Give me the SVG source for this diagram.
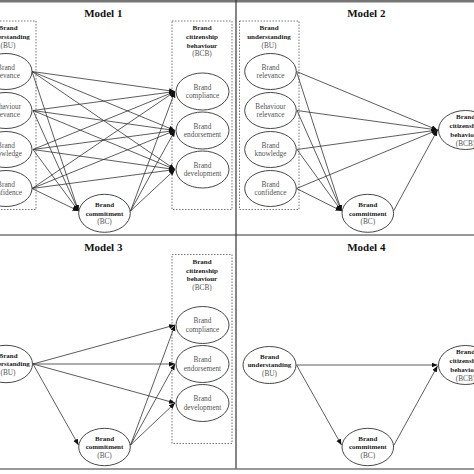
<svg xmlns="http://www.w3.org/2000/svg" width="474" height="474" viewBox="0 0 474 474">
<defs>
<marker id="ah" markerUnits="userSpaceOnUse" markerWidth="7" markerHeight="6" refX="6" refY="2.5" orient="auto">
<path d="M0,0 L6,2.5 L0,5 z" fill="#111"/>
</marker>
<style>
.t{font-family:"Liberation Serif","Times New Roman",serif;font-size:11px;font-weight:bold;fill:#111;text-anchor:middle}
.b{font-family:"Liberation Serif","Times New Roman",serif;font-size:7px;font-weight:bold;fill:#222;text-anchor:middle}
.r{font-family:"Liberation Serif","Times New Roman",serif;font-size:7.3px;fill:#555;text-anchor:middle}
.e{fill:#fff;stroke:#333;stroke-width:0.9}
.box{fill:none;stroke:#666;stroke-width:0.9;stroke-dasharray:1.5,1.5}
.c line{stroke:#333;stroke-width:0.8;marker-end:url(#ah)}
.frame{stroke:#333;stroke-width:1.2}
</style>
</defs>
<rect width="474" height="474" fill="#fff"/>
<!-- frame -->
<rect x="0" y="0" width="474" height="2.5" fill="#767676"/>
<line class="frame" x1="236" y1="0" x2="236" y2="469"/>
<line class="frame" x1="0" y1="235" x2="474" y2="235"/>
<line x1="0" y1="469" x2="474" y2="469" stroke="#777" stroke-width="1.5"/>
<!-- titles -->
<text class="t" x="103.3" y="16.7">Model 1</text>
<text class="t" x="366.3" y="16.7">Model 2</text>
<text class="t" x="103.3" y="250.5">Model 3</text>
<text class="t" x="366.3" y="250.5">Model 4</text>
<!-- dashed boxes -->
<g id="m1-bu-box"><rect class="box" x="-24" y="21" width="60" height="188.5"/>
<text class="b" x="8" y="30">Brand</text><text class="b" x="8" y="38.8">understanding</text><text class="r" x="8" y="47.6">(BU)</text></g>
<g id="m1-bcb-box"><rect class="box" x="172" y="21" width="60" height="188.5"/>
<text class="b" x="202" y="30">Brand</text><text class="b" x="202" y="38.8">citizenship</text><text class="b" x="202" y="47.6">behaviour</text><text class="r" x="202" y="56.4">(BCB)</text></g>
<g id="m2-bu-box"><rect class="box" x="239.5" y="21" width="59.5" height="188.5"/>
<text class="b" x="269" y="30">Brand</text><text class="b" x="269" y="38.8">understanding</text><text class="r" x="269" y="47.6">(BU)</text></g>
<g id="m3-bcb-box"><rect class="box" x="172" y="254.5" width="60" height="189"/>
<text class="b" x="202" y="263.8">Brand</text><text class="b" x="202" y="272.6">citizenship</text><text class="b" x="202" y="281.4">behaviour</text><text class="r" x="202" y="290.2">(BCB)</text></g>
<!-- connectors -->
<g id="connectors" class="c">
<!-- Model 1 -->
<line x1="32" y1="71.5" x2="175" y2="91.5"/>
<line x1="32" y1="71.5" x2="175" y2="130.5"/>
<line x1="32" y1="71.5" x2="175" y2="169.5"/>
<line x1="32" y1="71.5" x2="78.5" y2="211"/>
<line x1="33" y1="110.5" x2="175" y2="91.5"/>
<line x1="33" y1="110.5" x2="175" y2="130.5"/>
<line x1="33" y1="110.5" x2="175" y2="169.5"/>
<line x1="33" y1="110.5" x2="78.5" y2="211"/>
<line x1="33" y1="149.5" x2="175" y2="91.5"/>
<line x1="33" y1="149.5" x2="175" y2="130.5"/>
<line x1="33" y1="149.5" x2="175" y2="169.5"/>
<line x1="33" y1="149.5" x2="78.5" y2="211"/>
<line x1="32" y1="188.5" x2="175" y2="91.5"/>
<line x1="32" y1="188.5" x2="175" y2="130.5"/>
<line x1="32" y1="188.5" x2="175" y2="169.5"/>
<line x1="32" y1="188.5" x2="78.5" y2="211"/>
<line x1="130.5" y1="211" x2="175" y2="91.5"/>
<line x1="130.5" y1="211" x2="175" y2="130.5"/>
<line x1="130.5" y1="211" x2="175" y2="169.5"/>
<!-- Model 2 -->
<line x1="296.5" y1="71.5" x2="437.5" y2="130"/>
<line x1="297" y1="110.5" x2="437.5" y2="130"/>
<line x1="297" y1="149.5" x2="437.5" y2="130"/>
<line x1="296.5" y1="188.5" x2="437.5" y2="130"/>
<line x1="296.5" y1="71.5" x2="341.5" y2="211"/>
<line x1="297" y1="110.5" x2="341.5" y2="211"/>
<line x1="297" y1="149.5" x2="341.5" y2="211"/>
<line x1="296.5" y1="188.5" x2="341.5" y2="211"/>
<line x1="393.5" y1="211" x2="437.5" y2="130"/>
<!-- Model 3 -->
<line x1="33" y1="364" x2="175" y2="325"/>
<line x1="33" y1="364" x2="175" y2="364"/>
<line x1="33" y1="364" x2="175" y2="403"/>
<line x1="33" y1="364" x2="78.5" y2="445"/>
<line x1="130.5" y1="445" x2="175" y2="325"/>
<line x1="130.5" y1="445" x2="175" y2="364"/>
<line x1="130.5" y1="445" x2="175" y2="403"/>
<!-- Model 4 -->
<line x1="296.5" y1="365" x2="437.5" y2="365"/>
<line x1="296.5" y1="365" x2="341.5" y2="445"/>
<line x1="394" y1="445" x2="437.5" y2="366"/>
</g>
<!-- Model 1 nodes -->
<g id="m1-brand-relevance"><ellipse class="e" cx="6" cy="71.5" rx="26" ry="18"/><text class="r" x="6" y="69.6">Brand</text><text class="r" x="6" y="78.4">relevance</text></g>
<g id="m1-behaviour-relevance"><ellipse class="e" cx="6" cy="110.5" rx="26" ry="18"/><text class="r" x="6" y="108.6">Behaviour</text><text class="r" x="6" y="117.4">relevance</text></g>
<g id="m1-brand-knowledge"><ellipse class="e" cx="6" cy="149.5" rx="26" ry="18"/><text class="r" x="6" y="147.6">Brand</text><text class="r" x="6" y="156.4">knowledge</text></g>
<g id="m1-brand-confidence"><ellipse class="e" cx="6" cy="188.5" rx="26" ry="18"/><text class="r" x="6" y="186.6">Brand</text><text class="r" x="6" y="195.4">confidence</text></g>
<g id="m1-brand-compliance"><ellipse class="e" cx="202.5" cy="91.5" rx="26.5" ry="18.5"/><text class="r" x="202.5" y="89.6">Brand</text><text class="r" x="202.5" y="98.4">compliance</text></g>
<g id="m1-brand-endorsement"><ellipse class="e" cx="202.5" cy="130.5" rx="26.5" ry="18.5"/><text class="r" x="202.5" y="128.6">Brand</text><text class="r" x="202.5" y="137.4">endorsement</text></g>
<g id="m1-brand-development"><ellipse class="e" cx="202.5" cy="169.5" rx="26.5" ry="18.5"/><text class="r" x="202.5" y="167.6">Brand</text><text class="r" x="202.5" y="176.4">development</text></g>
<g id="m1-bc"><ellipse class="e" cx="104.5" cy="213.3" rx="25.8" ry="19"/><text class="b" x="104.5" y="206.8">Brand</text><text class="b" x="104.5" y="215.6">commitment</text><text class="r" x="104.5" y="224.4">(BC)</text></g>
<!-- Model 2 nodes -->
<g id="m2-brand-relevance"><ellipse class="e" cx="270.5" cy="71.5" rx="25.8" ry="18"/><text class="r" x="270.5" y="69.6">Brand</text><text class="r" x="270.5" y="78.4">relevance</text></g>
<g id="m2-behaviour-relevance"><ellipse class="e" cx="270.5" cy="110.5" rx="25.8" ry="18"/><text class="r" x="270.5" y="108.6">Behaviour</text><text class="r" x="270.5" y="117.4">relevance</text></g>
<g id="m2-brand-knowledge"><ellipse class="e" cx="270.5" cy="149.5" rx="25.8" ry="18"/><text class="r" x="270.5" y="147.6">Brand</text><text class="r" x="270.5" y="156.4">knowledge</text></g>
<g id="m2-brand-confidence"><ellipse class="e" cx="270.5" cy="188.5" rx="25.8" ry="18"/><text class="r" x="270.5" y="186.6">Brand</text><text class="r" x="270.5" y="195.4">confidence</text></g>
<g id="m2-bc"><ellipse class="e" cx="367.8" cy="213.3" rx="25.8" ry="19"/><text class="b" x="367.8" y="206.8">Brand</text><text class="b" x="367.8" y="215.6">commitment</text><text class="r" x="367.8" y="224.4">(BC)</text></g>
<g id="m2-bcb"><ellipse class="e" cx="465.5" cy="130" rx="27" ry="19.5"/><text class="b" x="465.5" y="119.1">Brand</text><text class="b" x="465.5" y="127.9">citizenship</text><text class="b" x="465.5" y="136.7">behaviour</text><text class="r" x="465.5" y="145.5">(BCB)</text></g>
<!-- Model 3 nodes -->
<g id="m3-bu"><ellipse class="e" cx="6" cy="364" rx="26.5" ry="18.7"/><text class="b" x="8" y="357.5">Brand</text><text class="b" x="8" y="366.3">understanding</text><text class="r" x="8" y="375.1">(BU)</text></g>
<g id="m3-brand-compliance"><ellipse class="e" cx="202.5" cy="325" rx="26.5" ry="18.5"/><text class="r" x="202.5" y="323.1">Brand</text><text class="r" x="202.5" y="331.9">compliance</text></g>
<g id="m3-brand-endorsement"><ellipse class="e" cx="202.5" cy="364" rx="26.5" ry="18.5"/><text class="r" x="202.5" y="362.1">Brand</text><text class="r" x="202.5" y="370.9">endorsement</text></g>
<g id="m3-brand-development"><ellipse class="e" cx="202.5" cy="403" rx="26.5" ry="18.5"/><text class="r" x="202.5" y="401.1">Brand</text><text class="r" x="202.5" y="409.9">development</text></g>
<g id="m3-bc"><ellipse class="e" cx="104.5" cy="447" rx="25.8" ry="18.7"/><text class="b" x="104.5" y="440.5">Brand</text><text class="b" x="104.5" y="449.3">commitment</text><text class="r" x="104.5" y="458.1">(BC)</text></g>
<!-- Model 4 nodes -->
<g id="m4-bu"><ellipse class="e" cx="269.5" cy="365" rx="26.5" ry="18.5"/><text class="b" x="269.5" y="358.5">Brand</text><text class="b" x="269.5" y="367.3">understanding</text><text class="r" x="269.5" y="376.1">(BU)</text></g>
<g id="m4-bc"><ellipse class="e" cx="367.8" cy="447" rx="25.8" ry="18.7"/><text class="b" x="367.8" y="440.5">Brand</text><text class="b" x="367.8" y="449.3">commitment</text><text class="r" x="367.8" y="458.1">(BC)</text></g>
<g id="m4-bcb"><ellipse class="e" cx="465.5" cy="365" rx="27" ry="19.5"/><text class="b" x="465.5" y="354.1">Brand</text><text class="b" x="465.5" y="362.9">citizenship</text><text class="b" x="465.5" y="371.7">behaviour</text><text class="r" x="465.5" y="380.5">(BCB)</text></g>
</svg>
